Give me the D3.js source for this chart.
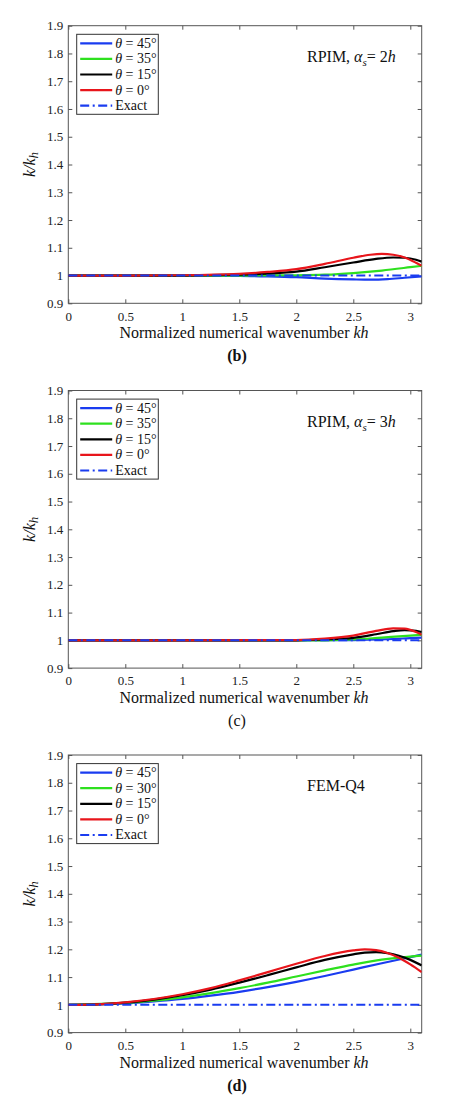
<!DOCTYPE html>
<html>
<head>
<meta charset="utf-8">
<script src="https://cdn.jsdelivr.net/npm/d3@7"></script>
<style>
  body { margin: 0; background: #fff; }
  svg { display: block; font-family: "Liberation Serif", "Times New Roman", serif; }
</style>
</head>
<body>
<svg id="chart" width="474" height="1097"></svg>
<script>
// x ticks / y ticks shared by all panels
const xTicks = [0, 0.5, 1, 1.5, 2, 2.5, 3];
const yTicks = [0.9, 1, 1.1, 1.2, 1.3, 1.4, 1.5, 1.6, 1.7, 1.8, 1.9];

// panel (b) RPIM, alpha_s = 2h
const bBlue = [[0, 1], [1, 1], [1.5, 0.999], [1.75, 0.997], [2, 0.994], [2.25, 0.989], [2.5, 0.986], [2.65, 0.985], [2.8, 0.987], [2.95, 0.992], [3.1, 0.997]];
const bGreen = [[0, 1], [1.5, 1], [2, 1.001], [2.25, 1.003], [2.5, 1.009], [2.75, 1.018], [3, 1.03], [3.1, 1.035]];
const bBlack = [[0, 1], [1, 1], [1.5, 1.003], [1.75, 1.007], [2, 1.014], [2.25, 1.03], [2.5, 1.047], [2.7, 1.06], [2.85, 1.065], [2.95, 1.064], [3.05, 1.057], [3.1, 1.05]];
const bRed = [[0, 1], [0.5, 1], [1, 1.001], [1.5, 1.006], [1.75, 1.013], [2, 1.023], [2.25, 1.042], [2.5, 1.064], [2.65, 1.075], [2.75, 1.078], [2.85, 1.075], [2.95, 1.065], [3.05, 1.046], [3.1, 1.035]];

// panel (c) RPIM, alpha_s = 3h
const cBlue = [[0, 1], [2.5, 1.001], [2.8, 1.004], [3, 1.008], [3.1, 1.01]];
const cGreen = [[0, 1], [2.25, 1], [2.5, 1.003], [2.75, 1.01], [3, 1.017], [3.1, 1.02]];
const cBlack = [[0, 1], [2, 1], [2.25, 1.003], [2.5, 1.009], [2.7, 1.022], [2.85, 1.033], [2.95, 1.037], [3.05, 1.034], [3.1, 1.03]];
const cRed = [[0, 1], [1, 1], [2, 1.001], [2.25, 1.006], [2.5, 1.017], [2.7, 1.034], [2.85, 1.043], [2.95, 1.042], [3.05, 1.03], [3.1, 1.02]];

// panel (d) FEM-Q4
const dBlue = [[0, 1], [0.5, 1.005], [0.75, 1.012], [1, 1.021], [1.25, 1.033], [1.5, 1.047], [1.75, 1.064], [2, 1.083], [2.25, 1.104], [2.5, 1.127], [2.75, 1.15], [3, 1.172], [3.1, 1.181]];
const dGreen = [[0, 1], [0.5, 1.007], [0.75, 1.015], [1, 1.027], [1.25, 1.042], [1.5, 1.06], [1.75, 1.08], [2, 1.102], [2.25, 1.124], [2.5, 1.145], [2.75, 1.163], [3, 1.174], [3.1, 1.177]];
const dBlack = [[0, 1], [0.25, 1.002], [0.5, 1.008], [0.75, 1.019], [1, 1.035], [1.25, 1.055], [1.5, 1.08], [1.75, 1.107], [2, 1.135], [2.25, 1.162], [2.5, 1.182], [2.6, 1.188], [2.7, 1.19], [2.8, 1.186], [2.9, 1.177], [3, 1.162], [3.1, 1.142]];
const dRed = [[0, 1], [0.25, 1.002], [0.5, 1.009], [0.75, 1.021], [1, 1.038], [1.25, 1.06], [1.5, 1.088], [1.75, 1.118], [2, 1.148], [2.25, 1.176], [2.5, 1.196], [2.6, 1.2], [2.7, 1.197], [2.8, 1.187], [2.9, 1.17], [3, 1.146], [3.1, 1.118]];

const exactLine = [[0, 1], [3.1, 1]];

const colors = { blue: "#1a3cf0", green: "#2ee01e", black: "#000", red: "#e8151b" };

const panels = [
  { top: 25.7, tag: "(b)", bold: true, note: "rpim2", angles: ["45", "35", "15", "0"], series: [bBlue, bGreen, bBlack, bRed] },
  { top: 390.5, tag: "(c)", bold: false, note: "rpim3", angles: ["45", "35", "15", "0"], series: [cBlue, cGreen, cBlack, cRed] },
  { top: 755, tag: "(d)", bold: true, note: "fem", angles: ["45", "30", "15", "0"], series: [dBlue, dGreen, dBlack, dRed] }
];

const svg = d3.select("#chart");
const left = 68.3, width = 353.4, height = 277.6;
const axisColor = "#555";

const x = d3.scaleLinear().domain([0, 3.1]).range([0, width]);
const y = d3.scaleLinear().domain([0.9, 1.9]).range([height, 0]);

const line = d3.line()
  .x(d => x(d[0]))
  .y(d => y(d[1]))
  .curve(d3.curveMonotoneX);

const fmt = d => String(+d.toFixed(1));

panels.forEach((p, pi) => {
  const g = svg.append("g").attr("transform", "translate(" + left + "," + p.top + ")");

  svg.append("clipPath").attr("id", "clip" + pi)
    .append("rect").attr("width", width).attr("height", height);

  // axes with ticks pointing inward, mirrored on top/right
  g.append("g").attr("transform", "translate(0," + height + ")")
    .call(d3.axisBottom(x).tickValues(xTicks).tickSizeInner(-4).tickSizeOuter(0).tickPadding(8).tickFormat(fmt));
  g.append("g")
    .call(d3.axisLeft(y).tickValues(yTicks).tickSizeInner(-4).tickSizeOuter(0).tickPadding(5).tickFormat(fmt));
  g.append("g").call(d3.axisTop(x).tickValues(xTicks).tickSizeInner(-4).tickSizeOuter(0).tickFormat(""));
  g.append("g").attr("transform", "translate(" + width + ",0)")
    .call(d3.axisRight(y).tickValues(yTicks).tickSizeInner(-4).tickSizeOuter(0).tickFormat(""));

  g.selectAll(".domain").remove();
  g.selectAll(".tick line").attr("stroke", axisColor);
  g.selectAll(".tick text").attr("fill", "#222").style("font-size", "13px")
    .style("font-family", "'Liberation Serif', serif");

  g.append("rect").attr("width", width).attr("height", height)
    .attr("fill", "none").attr("stroke", axisColor).attr("stroke-width", 1);

  // curves
  const plot = g.append("g").attr("clip-path", "url(#clip" + pi + ")");
  const cols = [colors.blue, colors.green, colors.black, colors.red];
  p.series.forEach((s, i) => {
    plot.append("path").datum(s).attr("d", line)
      .attr("fill", "none").attr("stroke", cols[i]).attr("stroke-width", 2.2);
  });
  plot.append("path").datum(exactLine).attr("d", line)
    .attr("fill", "none").attr("stroke", colors.blue).attr("stroke-width", 2)
    .attr("stroke-dasharray", "9,3.5,2,3.5");

  // legend
  const lg = g.append("g").attr("transform", "translate(8.4,8.6)");
  lg.append("rect").attr("width", 81.6).attr("height", 80)
    .attr("fill", "#fff").attr("stroke", "#333").attr("stroke-width", 1);
  const rows = p.angles.map((a, i) => ({ label: a, color: cols[i], dash: null }));
  rows.push({ label: null, color: colors.blue, dash: "9,3.5,2,3.5" });
  rows.forEach((r, i) => {
    const ry = 9 + i * 15.6;
    lg.append("line").attr("x1", 3.5).attr("x2", 35.5).attr("y1", ry).attr("y2", ry)
      .attr("stroke", r.color).attr("stroke-width", 2.2)
      .attr("stroke-dasharray", r.dash);
    const t = lg.append("text").attr("x", 38.5).attr("y", ry + 4.5)
      .style("font-size", "14px").attr("fill", "#111");
    if (r.label === null) {
      t.text("Exact");
    } else {
      t.append("tspan").style("font-style", "italic").text("θ");
      t.append("tspan").text(" = " + r.label + "°");
    }
  });

  // annotation in the upper right
  const note = g.append("text").attr("y", 36).style("font-size", "16px").attr("fill", "#111");
  if (p.note === "fem") {
    note.attr("x", 238.7).text("FEM-Q4");
  } else {
    note.attr("x", 238.7);
    note.append("tspan").text("RPIM, ");
    note.append("tspan").style("font-style", "italic").text("α");
    note.append("tspan").style("font-style", "italic").style("font-size", "11px").attr("dy", 4).text("s");
    note.append("tspan").attr("dy", -4).text("= " + (p.note === "rpim2" ? "2" : "3"));
    note.append("tspan").style("font-style", "italic").text("h");
  }

  // x label
  const xl = g.append("text").attr("x", width / 2 - 1).attr("y", height + 35)
    .attr("text-anchor", "middle").style("font-size", "16px").attr("fill", "#111");
  xl.append("tspan").text("Normalized numerical wavenumber ");
  xl.append("tspan").style("font-style", "italic").text("kh");

  // y label
  const yl = g.append("text")
    .attr("transform", "translate(-33," + (height / 2) + ") rotate(-90)")
    .attr("text-anchor", "middle").style("font-size", "16px").attr("fill", "#111");
  yl.append("tspan").style("font-style", "italic").text("k/k");
  yl.append("tspan").style("font-style", "italic").style("font-size", "13px").attr("dy", 3).text("h");

  // panel tag
  g.append("text").attr("x", 237 - left).attr("y", height + 58)
    .attr("text-anchor", "middle").style("font-size", "16px")
    .style("font-weight", p.bold ? "bold" : "normal").attr("fill", "#111")
    .text(p.tag);
});
</script>
</body>
</html>
